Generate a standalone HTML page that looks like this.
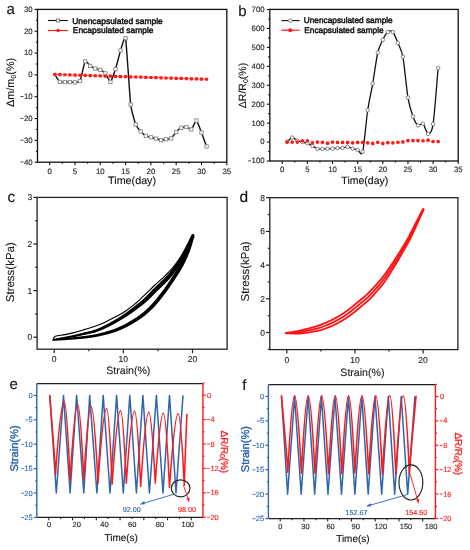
<!DOCTYPE html>
<html><head><meta charset="utf-8"><style>
html,body{margin:0;padding:0;background:#fff;}
body{width:470px;height:550px;overflow:hidden;}
svg{display:block;will-change:transform;text-rendering:geometricPrecision;font-family:"Liberation Sans", sans-serif;}
</style></head><body>
<svg width="470" height="550" viewBox="0 0 470 550">
<rect width="470" height="550" fill="#fff"/>
<g>
<path d="M54.76,74.45 C55.1,74.95 59.15,81.37 59.82,81.88 C60.49,82.38 64.21,82.08 64.88,82.09 C65.55,82.11 69.27,82.08 69.94,82.09 C70.61,82.11 74.33,82.38 75,82.31 C75.67,82.24 79.39,82.4 80.06,81 C80.73,79.61 84.45,62.36 85.12,61.36 C85.79,60.35 89.51,65.46 90.18,65.94 C90.85,66.42 94.57,68.3 95.24,68.56 C95.91,68.82 99.63,69.55 100.3,69.87 C100.97,70.19 104.69,72.56 105.36,73.36 C106.03,74.16 109.75,82.15 110.42,81.88 C111.09,81.6 114.81,71.31 115.48,69.21 C116.15,67.12 119.87,52.51 120.54,50.44 C121.21,48.38 124.93,34.61 125.6,38.22 C126.27,41.83 129.99,98.83 130.66,104.58 C131.33,110.33 135.05,122.65 135.72,124.44 C136.39,126.23 140.11,130.67 140.78,131.43 C141.45,132.18 145.17,135.4 145.84,135.79 C146.51,136.19 150.23,137.13 150.9,137.32 C151.57,137.51 155.29,138.44 155.96,138.63 C156.63,138.82 160.35,140.12 161.02,140.16 C161.69,140.2 165.41,139.4 166.08,139.29 C166.75,139.17 170.47,138.89 171.14,138.41 C171.81,137.93 175.53,132.8 176.2,132.08 C176.87,131.37 180.59,128.05 181.26,127.72 C181.93,127.38 185.65,126.94 186.32,127.06 C186.99,127.18 190.71,129.9 191.38,129.46 C192.05,129.03 195.77,120.31 196.44,120.51 C197.11,120.72 200.83,130.79 201.5,132.52 C202.17,134.25 206.22,145.56 206.56,146.49" fill="none" stroke="#111" stroke-width="1.4" stroke-linejoin="round" stroke-linecap="round"/>
<rect x="58.17" y="80.23" width="3.3" height="3.3" fill="#fff" stroke="#888" stroke-width="0.9"/>
<rect x="63.23" y="80.44" width="3.3" height="3.3" fill="#fff" stroke="#888" stroke-width="0.9"/>
<rect x="68.29" y="80.44" width="3.3" height="3.3" fill="#fff" stroke="#888" stroke-width="0.9"/>
<rect x="73.35" y="80.66" width="3.3" height="3.3" fill="#fff" stroke="#888" stroke-width="0.9"/>
<rect x="78.41" y="79.35" width="3.3" height="3.3" fill="#fff" stroke="#888" stroke-width="0.9"/>
<rect x="83.47" y="59.71" width="3.3" height="3.3" fill="#fff" stroke="#888" stroke-width="0.9"/>
<rect x="88.53" y="64.29" width="3.3" height="3.3" fill="#fff" stroke="#888" stroke-width="0.9"/>
<rect x="93.59" y="66.91" width="3.3" height="3.3" fill="#fff" stroke="#888" stroke-width="0.9"/>
<rect x="98.65" y="68.22" width="3.3" height="3.3" fill="#fff" stroke="#888" stroke-width="0.9"/>
<rect x="103.71" y="71.71" width="3.3" height="3.3" fill="#fff" stroke="#888" stroke-width="0.9"/>
<rect x="108.77" y="80.23" width="3.3" height="3.3" fill="#fff" stroke="#888" stroke-width="0.9"/>
<rect x="113.83" y="67.56" width="3.3" height="3.3" fill="#fff" stroke="#888" stroke-width="0.9"/>
<rect x="118.89" y="48.79" width="3.3" height="3.3" fill="#fff" stroke="#888" stroke-width="0.9"/>
<rect x="123.95" y="36.57" width="3.3" height="3.3" fill="#fff" stroke="#888" stroke-width="0.9"/>
<rect x="129.01" y="102.93" width="3.3" height="3.3" fill="#fff" stroke="#888" stroke-width="0.9"/>
<rect x="134.07" y="122.79" width="3.3" height="3.3" fill="#fff" stroke="#888" stroke-width="0.9"/>
<rect x="139.13" y="129.78" width="3.3" height="3.3" fill="#fff" stroke="#888" stroke-width="0.9"/>
<rect x="144.19" y="134.14" width="3.3" height="3.3" fill="#fff" stroke="#888" stroke-width="0.9"/>
<rect x="149.25" y="135.67" width="3.3" height="3.3" fill="#fff" stroke="#888" stroke-width="0.9"/>
<rect x="154.31" y="136.98" width="3.3" height="3.3" fill="#fff" stroke="#888" stroke-width="0.9"/>
<rect x="159.37" y="138.51" width="3.3" height="3.3" fill="#fff" stroke="#888" stroke-width="0.9"/>
<rect x="164.43" y="137.64" width="3.3" height="3.3" fill="#fff" stroke="#888" stroke-width="0.9"/>
<rect x="169.49" y="136.76" width="3.3" height="3.3" fill="#fff" stroke="#888" stroke-width="0.9"/>
<rect x="174.55" y="130.43" width="3.3" height="3.3" fill="#fff" stroke="#888" stroke-width="0.9"/>
<rect x="179.61" y="126.07" width="3.3" height="3.3" fill="#fff" stroke="#888" stroke-width="0.9"/>
<rect x="184.67" y="125.41" width="3.3" height="3.3" fill="#fff" stroke="#888" stroke-width="0.9"/>
<rect x="189.73" y="127.81" width="3.3" height="3.3" fill="#fff" stroke="#888" stroke-width="0.9"/>
<rect x="194.79" y="118.86" width="3.3" height="3.3" fill="#fff" stroke="#888" stroke-width="0.9"/>
<rect x="199.85" y="130.87" width="3.3" height="3.3" fill="#fff" stroke="#888" stroke-width="0.9"/>
<rect x="204.91" y="144.84" width="3.3" height="3.3" fill="#fff" stroke="#888" stroke-width="0.9"/>
<polyline points="54.76,74.45 59.82,74.61 64.88,74.77 69.94,74.93 75,75.09 80.06,75.25 85.12,75.41 90.18,75.57 95.24,75.73 100.3,75.89 105.36,76.05 110.42,76.21 115.48,76.37 120.54,76.53 125.6,76.69 130.66,76.85 135.72,77.01 140.78,77.17 145.84,77.33 150.9,77.49 155.96,77.66 161.02,77.82 166.08,77.98 171.14,78.14 176.2,78.3 181.26,78.46 186.32,78.62 191.38,78.78 196.44,78.94 201.5,79.1 206.56,79.26" fill="none" stroke="#ff1a1a" stroke-width="0.7" stroke-linejoin="round"/>
<rect x="53.16" y="72.85" width="3.2" height="3.2" rx="0.4" fill="#ff1a1a"/>
<rect x="58.22" y="73.01" width="3.2" height="3.2" rx="0.4" fill="#ff1a1a"/>
<rect x="63.28" y="73.17" width="3.2" height="3.2" rx="0.4" fill="#ff1a1a"/>
<rect x="68.34" y="73.33" width="3.2" height="3.2" rx="0.4" fill="#ff1a1a"/>
<rect x="73.4" y="73.49" width="3.2" height="3.2" rx="0.4" fill="#ff1a1a"/>
<rect x="78.46" y="73.65" width="3.2" height="3.2" rx="0.4" fill="#ff1a1a"/>
<rect x="83.52" y="73.81" width="3.2" height="3.2" rx="0.4" fill="#ff1a1a"/>
<rect x="88.58" y="73.97" width="3.2" height="3.2" rx="0.4" fill="#ff1a1a"/>
<rect x="93.64" y="74.13" width="3.2" height="3.2" rx="0.4" fill="#ff1a1a"/>
<rect x="98.7" y="74.29" width="3.2" height="3.2" rx="0.4" fill="#ff1a1a"/>
<rect x="103.76" y="74.45" width="3.2" height="3.2" rx="0.4" fill="#ff1a1a"/>
<rect x="108.82" y="74.61" width="3.2" height="3.2" rx="0.4" fill="#ff1a1a"/>
<rect x="113.88" y="74.77" width="3.2" height="3.2" rx="0.4" fill="#ff1a1a"/>
<rect x="118.94" y="74.93" width="3.2" height="3.2" rx="0.4" fill="#ff1a1a"/>
<rect x="124" y="75.09" width="3.2" height="3.2" rx="0.4" fill="#ff1a1a"/>
<rect x="129.06" y="75.25" width="3.2" height="3.2" rx="0.4" fill="#ff1a1a"/>
<rect x="134.12" y="75.41" width="3.2" height="3.2" rx="0.4" fill="#ff1a1a"/>
<rect x="139.18" y="75.57" width="3.2" height="3.2" rx="0.4" fill="#ff1a1a"/>
<rect x="144.24" y="75.73" width="3.2" height="3.2" rx="0.4" fill="#ff1a1a"/>
<rect x="149.3" y="75.89" width="3.2" height="3.2" rx="0.4" fill="#ff1a1a"/>
<rect x="154.36" y="76.06" width="3.2" height="3.2" rx="0.4" fill="#ff1a1a"/>
<rect x="159.42" y="76.22" width="3.2" height="3.2" rx="0.4" fill="#ff1a1a"/>
<rect x="164.48" y="76.38" width="3.2" height="3.2" rx="0.4" fill="#ff1a1a"/>
<rect x="169.54" y="76.54" width="3.2" height="3.2" rx="0.4" fill="#ff1a1a"/>
<rect x="174.6" y="76.7" width="3.2" height="3.2" rx="0.4" fill="#ff1a1a"/>
<rect x="179.66" y="76.86" width="3.2" height="3.2" rx="0.4" fill="#ff1a1a"/>
<rect x="184.72" y="77.02" width="3.2" height="3.2" rx="0.4" fill="#ff1a1a"/>
<rect x="189.78" y="77.18" width="3.2" height="3.2" rx="0.4" fill="#ff1a1a"/>
<rect x="194.84" y="77.34" width="3.2" height="3.2" rx="0.4" fill="#ff1a1a"/>
<rect x="199.9" y="77.5" width="3.2" height="3.2" rx="0.4" fill="#ff1a1a"/>
<rect x="204.96" y="77.66" width="3.2" height="3.2" rx="0.4" fill="#ff1a1a"/>
<rect x="37.5" y="9.4" width="189.3" height="152.8" fill="none" stroke="#111" stroke-width="1.3"/>
<line x1="34.5" y1="162.21" x2="37.5" y2="162.21" stroke="#111" stroke-width="1.1"/>
<text x="32.6" y="164.51" font-size="7.8" text-anchor="end" fill="#2a2a2a" stroke="#2a2a2a" stroke-width="0.15">40</text>
<rect x="20.43" y="161.58" width="3" height="0.85" fill="#2a2a2a"/>
<line x1="34.5" y1="140.38" x2="37.5" y2="140.38" stroke="#111" stroke-width="1.1"/>
<text x="32.6" y="142.68" font-size="7.8" text-anchor="end" fill="#2a2a2a" stroke="#2a2a2a" stroke-width="0.15">30</text>
<rect x="20.43" y="139.75" width="3" height="0.85" fill="#2a2a2a"/>
<line x1="34.5" y1="118.55" x2="37.5" y2="118.55" stroke="#111" stroke-width="1.1"/>
<text x="32.6" y="120.85" font-size="7.8" text-anchor="end" fill="#2a2a2a" stroke="#2a2a2a" stroke-width="0.15">20</text>
<rect x="20.43" y="117.92" width="3" height="0.85" fill="#2a2a2a"/>
<line x1="34.5" y1="96.72" x2="37.5" y2="96.72" stroke="#111" stroke-width="1.1"/>
<text x="32.6" y="99.02" font-size="7.8" text-anchor="end" fill="#2a2a2a" stroke="#2a2a2a" stroke-width="0.15">10</text>
<rect x="20.43" y="96.09" width="3" height="0.85" fill="#2a2a2a"/>
<line x1="34.5" y1="74.89" x2="37.5" y2="74.89" stroke="#111" stroke-width="1.1"/>
<text x="32.6" y="77.19" font-size="7.8" text-anchor="end" fill="#2a2a2a" stroke="#2a2a2a" stroke-width="0.15">0</text>
<line x1="34.5" y1="53.06" x2="37.5" y2="53.06" stroke="#111" stroke-width="1.1"/>
<text x="32.6" y="55.36" font-size="7.8" text-anchor="end" fill="#2a2a2a" stroke="#2a2a2a" stroke-width="0.15">10</text>
<line x1="34.5" y1="31.23" x2="37.5" y2="31.23" stroke="#111" stroke-width="1.1"/>
<text x="32.6" y="33.53" font-size="7.8" text-anchor="end" fill="#2a2a2a" stroke="#2a2a2a" stroke-width="0.15">20</text>
<line x1="34.5" y1="9.4" x2="37.5" y2="9.4" stroke="#111" stroke-width="1.1"/>
<text x="32.6" y="11.7" font-size="7.8" text-anchor="end" fill="#2a2a2a" stroke="#2a2a2a" stroke-width="0.15">30</text>
<line x1="35.9" y1="151.29" x2="37.5" y2="151.29" stroke="#111" stroke-width="1.1"/>
<line x1="35.9" y1="129.46" x2="37.5" y2="129.46" stroke="#111" stroke-width="1.1"/>
<line x1="35.9" y1="107.63" x2="37.5" y2="107.63" stroke="#111" stroke-width="1.1"/>
<line x1="35.9" y1="85.8" x2="37.5" y2="85.8" stroke="#111" stroke-width="1.1"/>
<line x1="35.9" y1="63.98" x2="37.5" y2="63.98" stroke="#111" stroke-width="1.1"/>
<line x1="35.9" y1="42.15" x2="37.5" y2="42.15" stroke="#111" stroke-width="1.1"/>
<line x1="35.9" y1="20.32" x2="37.5" y2="20.32" stroke="#111" stroke-width="1.1"/>
<line x1="49.7" y1="162.2" x2="49.7" y2="165.2" stroke="#111" stroke-width="1.1"/>
<text x="49.7" y="173.8" font-size="7.8" text-anchor="middle" fill="#2a2a2a" stroke="#2a2a2a" stroke-width="0.15">0</text>
<line x1="75" y1="162.2" x2="75" y2="165.2" stroke="#111" stroke-width="1.1"/>
<text x="75" y="173.8" font-size="7.8" text-anchor="middle" fill="#2a2a2a" stroke="#2a2a2a" stroke-width="0.15">5</text>
<line x1="100.3" y1="162.2" x2="100.3" y2="165.2" stroke="#111" stroke-width="1.1"/>
<text x="100.3" y="173.8" font-size="7.8" text-anchor="middle" fill="#2a2a2a" stroke="#2a2a2a" stroke-width="0.15">10</text>
<line x1="125.6" y1="162.2" x2="125.6" y2="165.2" stroke="#111" stroke-width="1.1"/>
<text x="125.6" y="173.8" font-size="7.8" text-anchor="middle" fill="#2a2a2a" stroke="#2a2a2a" stroke-width="0.15">15</text>
<line x1="150.9" y1="162.2" x2="150.9" y2="165.2" stroke="#111" stroke-width="1.1"/>
<text x="150.9" y="173.8" font-size="7.8" text-anchor="middle" fill="#2a2a2a" stroke="#2a2a2a" stroke-width="0.15">20</text>
<line x1="176.2" y1="162.2" x2="176.2" y2="165.2" stroke="#111" stroke-width="1.1"/>
<text x="176.2" y="173.8" font-size="7.8" text-anchor="middle" fill="#2a2a2a" stroke="#2a2a2a" stroke-width="0.15">25</text>
<line x1="201.5" y1="162.2" x2="201.5" y2="165.2" stroke="#111" stroke-width="1.1"/>
<text x="201.5" y="173.8" font-size="7.8" text-anchor="middle" fill="#2a2a2a" stroke="#2a2a2a" stroke-width="0.15">30</text>
<line x1="226.8" y1="162.2" x2="226.8" y2="165.2" stroke="#111" stroke-width="1.1"/>
<text x="226.8" y="173.8" font-size="7.8" text-anchor="middle" fill="#2a2a2a" stroke="#2a2a2a" stroke-width="0.15">35</text>
<line x1="62.35" y1="162.2" x2="62.35" y2="163.8" stroke="#111" stroke-width="1.1"/>
<line x1="87.65" y1="162.2" x2="87.65" y2="163.8" stroke="#111" stroke-width="1.1"/>
<line x1="112.95" y1="162.2" x2="112.95" y2="163.8" stroke="#111" stroke-width="1.1"/>
<line x1="138.25" y1="162.2" x2="138.25" y2="163.8" stroke="#111" stroke-width="1.1"/>
<line x1="163.55" y1="162.2" x2="163.55" y2="163.8" stroke="#111" stroke-width="1.1"/>
<line x1="188.85" y1="162.2" x2="188.85" y2="163.8" stroke="#111" stroke-width="1.1"/>
<line x1="214.15" y1="162.2" x2="214.15" y2="163.8" stroke="#111" stroke-width="1.1"/>
<text x="132.1" y="183.8" font-size="10.75" text-anchor="middle" fill="#111" stroke="#111" stroke-width="0.12">Time(day)</text>
<text x="14.3" y="82.4" font-size="10.85" text-anchor="middle" fill="#111" transform="rotate(-90 14.3 82.4)" stroke="#111" stroke-width="0.1">&#916;m/m<tspan font-size="7" dy="1.8">0</tspan><tspan dy="-1.8">(%)</tspan></text>
<line x1="48" y1="20.5" x2="67.8" y2="20.5" stroke="#111" stroke-width="1.1"/>
<rect x="56.5" y="19" width="3.0" height="3.0" fill="#fff" stroke="#777" stroke-width="0.9"/>
<line x1="48" y1="30.5" x2="67.8" y2="30.5" stroke="#ff1a1a" stroke-width="1.2"/>
<circle cx="58" cy="30.5" r="1.7" fill="#ff1a1a"/>
<text x="72.2" y="23.7" font-size="8.45" text-anchor="start" fill="#111" stroke="#111" stroke-width="0.45">Unencapsulated sample</text>
<text x="72.8" y="32.8" font-size="8.45" text-anchor="start" fill="#111" stroke="#111" stroke-width="0.45">Encapsulated sample</text>
<text x="6.5" y="14.1" font-size="15" text-anchor="start" fill="#111" stroke="#111" stroke-width="0.12">a</text>
</g>
<path d="M287.23,141.68 C287.9,141.13 290.92,137.67 292.26,137.52 C293.6,137.36 295.95,139.94 297.29,140.55 C298.63,141.15 300.98,141.68 302.32,142.06 C303.66,142.44 306.01,142.88 307.35,143.39 C308.69,143.89 311.04,145.12 312.38,145.85 C313.72,146.58 316.07,148.47 317.41,148.88 C318.75,149.28 321.1,148.9 322.44,148.88 C323.78,148.85 326.13,148.74 327.47,148.69 C328.81,148.64 331.16,148.57 332.5,148.5 C333.84,148.42 336.19,148.2 337.53,148.12 C338.87,148.04 341.22,148.11 342.56,147.93 C343.9,147.75 346.25,146.69 347.59,146.79 C348.93,146.9 351.28,148.28 352.62,148.69 C353.96,149.09 356.31,149.42 357.65,149.82 C358.99,150.23 361.34,156.99 362.68,151.72 C364.02,146.44 366.37,119.34 367.71,110.25 C369.05,101.16 371.4,91.25 372.74,83.54 C374.08,75.84 376.43,58.32 377.77,52.49 C379.11,46.66 381.46,42.53 382.8,39.8 C384.14,37.07 386.49,33.07 387.83,32.04 C389.17,31 391.52,30.6 392.86,32.04 C394.2,33.48 396.55,39.52 397.89,42.83 C399.23,46.14 401.58,49.55 402.92,56.84 C404.26,64.14 406.61,89.6 407.95,97.56 C409.29,105.51 411.64,112.78 412.98,116.5 C414.32,120.21 416.67,124.44 418.01,125.4 C419.35,126.35 421.7,122.55 423.04,123.69 C424.38,124.83 426.73,133.87 428.07,133.92 C429.41,133.97 431.76,132.83 433.1,124.07 C434.44,115.31 437.46,75.65 438.13,68.21" fill="none" stroke="#111" stroke-width="1.3" stroke-linejoin="round" stroke-linecap="round"/>
<circle cx="287.23" cy="141.68" r="1.75" fill="#fff" stroke="#777" stroke-width="0.9"/>
<circle cx="292.26" cy="137.52" r="1.75" fill="#fff" stroke="#777" stroke-width="0.9"/>
<circle cx="297.29" cy="140.55" r="1.75" fill="#fff" stroke="#777" stroke-width="0.9"/>
<circle cx="302.32" cy="142.06" r="1.75" fill="#fff" stroke="#777" stroke-width="0.9"/>
<circle cx="307.35" cy="143.39" r="1.75" fill="#fff" stroke="#777" stroke-width="0.9"/>
<circle cx="312.38" cy="145.85" r="1.75" fill="#fff" stroke="#777" stroke-width="0.9"/>
<circle cx="317.41" cy="148.88" r="1.75" fill="#fff" stroke="#777" stroke-width="0.9"/>
<circle cx="322.44" cy="148.88" r="1.75" fill="#fff" stroke="#777" stroke-width="0.9"/>
<circle cx="327.47" cy="148.69" r="1.75" fill="#fff" stroke="#777" stroke-width="0.9"/>
<circle cx="332.5" cy="148.5" r="1.75" fill="#fff" stroke="#777" stroke-width="0.9"/>
<circle cx="337.53" cy="148.12" r="1.75" fill="#fff" stroke="#777" stroke-width="0.9"/>
<circle cx="342.56" cy="147.93" r="1.75" fill="#fff" stroke="#777" stroke-width="0.9"/>
<circle cx="347.59" cy="146.79" r="1.75" fill="#fff" stroke="#777" stroke-width="0.9"/>
<circle cx="352.62" cy="148.69" r="1.75" fill="#fff" stroke="#777" stroke-width="0.9"/>
<circle cx="357.65" cy="149.82" r="1.75" fill="#fff" stroke="#777" stroke-width="0.9"/>
<circle cx="362.68" cy="151.72" r="1.75" fill="#fff" stroke="#777" stroke-width="0.9"/>
<circle cx="367.71" cy="110.25" r="1.75" fill="#fff" stroke="#777" stroke-width="0.9"/>
<circle cx="372.74" cy="83.54" r="1.75" fill="#fff" stroke="#777" stroke-width="0.9"/>
<circle cx="377.77" cy="52.49" r="1.75" fill="#fff" stroke="#777" stroke-width="0.9"/>
<circle cx="382.8" cy="39.8" r="1.75" fill="#fff" stroke="#777" stroke-width="0.9"/>
<circle cx="387.83" cy="32.04" r="1.75" fill="#fff" stroke="#777" stroke-width="0.9"/>
<circle cx="392.86" cy="32.04" r="1.75" fill="#fff" stroke="#777" stroke-width="0.9"/>
<circle cx="397.89" cy="42.83" r="1.75" fill="#fff" stroke="#777" stroke-width="0.9"/>
<circle cx="402.92" cy="56.84" r="1.75" fill="#fff" stroke="#777" stroke-width="0.9"/>
<circle cx="407.95" cy="97.56" r="1.75" fill="#fff" stroke="#777" stroke-width="0.9"/>
<circle cx="412.98" cy="116.5" r="1.75" fill="#fff" stroke="#777" stroke-width="0.9"/>
<circle cx="418.01" cy="125.4" r="1.75" fill="#fff" stroke="#777" stroke-width="0.9"/>
<circle cx="423.04" cy="123.69" r="1.75" fill="#fff" stroke="#777" stroke-width="0.9"/>
<circle cx="428.07" cy="133.92" r="1.75" fill="#fff" stroke="#777" stroke-width="0.9"/>
<circle cx="433.1" cy="124.07" r="1.75" fill="#fff" stroke="#777" stroke-width="0.9"/>
<circle cx="438.13" cy="68.21" r="1.75" fill="#fff" stroke="#777" stroke-width="0.9"/>
<circle cx="287.23" cy="142.06" r="1.85" fill="#ff1a1a"/>
<circle cx="292.26" cy="142.06" r="1.85" fill="#ff1a1a"/>
<circle cx="297.29" cy="142.06" r="1.85" fill="#ff1a1a"/>
<circle cx="302.32" cy="140.73" r="1.85" fill="#ff1a1a"/>
<circle cx="307.35" cy="140.73" r="1.85" fill="#ff1a1a"/>
<circle cx="312.38" cy="142.82" r="1.85" fill="#ff1a1a"/>
<circle cx="317.41" cy="142.06" r="1.85" fill="#ff1a1a"/>
<circle cx="322.44" cy="142.25" r="1.85" fill="#ff1a1a"/>
<circle cx="327.47" cy="143.2" r="1.85" fill="#ff1a1a"/>
<circle cx="332.5" cy="142.06" r="1.85" fill="#ff1a1a"/>
<circle cx="337.53" cy="142.44" r="1.85" fill="#ff1a1a"/>
<circle cx="342.56" cy="142.44" r="1.85" fill="#ff1a1a"/>
<circle cx="347.59" cy="142.44" r="1.85" fill="#ff1a1a"/>
<circle cx="352.62" cy="142.82" r="1.85" fill="#ff1a1a"/>
<circle cx="357.65" cy="142.44" r="1.85" fill="#ff1a1a"/>
<circle cx="362.68" cy="142.25" r="1.85" fill="#ff1a1a"/>
<circle cx="367.71" cy="142.82" r="1.85" fill="#ff1a1a"/>
<circle cx="372.74" cy="143.39" r="1.85" fill="#ff1a1a"/>
<circle cx="377.77" cy="142.25" r="1.85" fill="#ff1a1a"/>
<circle cx="382.8" cy="143.39" r="1.85" fill="#ff1a1a"/>
<circle cx="387.83" cy="142.63" r="1.85" fill="#ff1a1a"/>
<circle cx="392.86" cy="142.82" r="1.85" fill="#ff1a1a"/>
<circle cx="397.89" cy="142.25" r="1.85" fill="#ff1a1a"/>
<circle cx="402.92" cy="141.97" r="1.85" fill="#ff1a1a"/>
<circle cx="407.95" cy="140.55" r="1.85" fill="#ff1a1a"/>
<circle cx="412.98" cy="140.55" r="1.85" fill="#ff1a1a"/>
<circle cx="418.01" cy="140.55" r="1.85" fill="#ff1a1a"/>
<circle cx="423.04" cy="140.73" r="1.85" fill="#ff1a1a"/>
<circle cx="428.07" cy="140.17" r="1.85" fill="#ff1a1a"/>
<circle cx="433.1" cy="141.49" r="1.85" fill="#ff1a1a"/>
<circle cx="438.13" cy="141.49" r="1.85" fill="#ff1a1a"/>
<rect x="269.8" y="9.4" width="188.4" height="151.6" fill="none" stroke="#111" stroke-width="1.3"/>
<line x1="266.8" y1="161" x2="269.8" y2="161" stroke="#111" stroke-width="1.1"/>
<text x="264.6" y="163.4" font-size="7.8" text-anchor="end" fill="#2a2a2a" stroke="#2a2a2a" stroke-width="0.15">100</text>
<rect x="248.09" y="160.47" width="3" height="0.85" fill="#2a2a2a"/>
<line x1="266.8" y1="142.06" x2="269.8" y2="142.06" stroke="#111" stroke-width="1.1"/>
<text x="264.6" y="144.46" font-size="7.8" text-anchor="end" fill="#2a2a2a" stroke="#2a2a2a" stroke-width="0.15">0</text>
<line x1="266.8" y1="123.12" x2="269.8" y2="123.12" stroke="#111" stroke-width="1.1"/>
<text x="264.6" y="125.52" font-size="7.8" text-anchor="end" fill="#2a2a2a" stroke="#2a2a2a" stroke-width="0.15">100</text>
<line x1="266.8" y1="104.19" x2="269.8" y2="104.19" stroke="#111" stroke-width="1.1"/>
<text x="264.6" y="106.59" font-size="7.8" text-anchor="end" fill="#2a2a2a" stroke="#2a2a2a" stroke-width="0.15">200</text>
<line x1="266.8" y1="85.25" x2="269.8" y2="85.25" stroke="#111" stroke-width="1.1"/>
<text x="264.6" y="87.65" font-size="7.8" text-anchor="end" fill="#2a2a2a" stroke="#2a2a2a" stroke-width="0.15">300</text>
<line x1="266.8" y1="66.31" x2="269.8" y2="66.31" stroke="#111" stroke-width="1.1"/>
<text x="264.6" y="68.71" font-size="7.8" text-anchor="end" fill="#2a2a2a" stroke="#2a2a2a" stroke-width="0.15">400</text>
<line x1="266.8" y1="47.38" x2="269.8" y2="47.38" stroke="#111" stroke-width="1.1"/>
<text x="264.6" y="49.77" font-size="7.8" text-anchor="end" fill="#2a2a2a" stroke="#2a2a2a" stroke-width="0.15">500</text>
<line x1="266.8" y1="28.44" x2="269.8" y2="28.44" stroke="#111" stroke-width="1.1"/>
<text x="264.6" y="30.84" font-size="7.8" text-anchor="end" fill="#2a2a2a" stroke="#2a2a2a" stroke-width="0.15">600</text>
<line x1="266.8" y1="9.5" x2="269.8" y2="9.5" stroke="#111" stroke-width="1.1"/>
<text x="264.6" y="11.9" font-size="7.8" text-anchor="end" fill="#2a2a2a" stroke="#2a2a2a" stroke-width="0.15">700</text>
<line x1="268.2" y1="151.53" x2="269.8" y2="151.53" stroke="#111" stroke-width="1.1"/>
<line x1="268.2" y1="132.59" x2="269.8" y2="132.59" stroke="#111" stroke-width="1.1"/>
<line x1="268.2" y1="113.65" x2="269.8" y2="113.65" stroke="#111" stroke-width="1.1"/>
<line x1="268.2" y1="94.72" x2="269.8" y2="94.72" stroke="#111" stroke-width="1.1"/>
<line x1="268.2" y1="75.78" x2="269.8" y2="75.78" stroke="#111" stroke-width="1.1"/>
<line x1="268.2" y1="56.84" x2="269.8" y2="56.84" stroke="#111" stroke-width="1.1"/>
<line x1="268.2" y1="37.91" x2="269.8" y2="37.91" stroke="#111" stroke-width="1.1"/>
<line x1="268.2" y1="18.97" x2="269.8" y2="18.97" stroke="#111" stroke-width="1.1"/>
<line x1="282.2" y1="161" x2="282.2" y2="164" stroke="#111" stroke-width="1.1"/>
<text x="282.2" y="171.9" font-size="7.8" text-anchor="middle" fill="#2a2a2a" stroke="#2a2a2a" stroke-width="0.15">0</text>
<line x1="307.35" y1="161" x2="307.35" y2="164" stroke="#111" stroke-width="1.1"/>
<text x="307.35" y="171.9" font-size="7.8" text-anchor="middle" fill="#2a2a2a" stroke="#2a2a2a" stroke-width="0.15">5</text>
<line x1="332.5" y1="161" x2="332.5" y2="164" stroke="#111" stroke-width="1.1"/>
<text x="332.5" y="171.9" font-size="7.8" text-anchor="middle" fill="#2a2a2a" stroke="#2a2a2a" stroke-width="0.15">10</text>
<line x1="357.65" y1="161" x2="357.65" y2="164" stroke="#111" stroke-width="1.1"/>
<text x="357.65" y="171.9" font-size="7.8" text-anchor="middle" fill="#2a2a2a" stroke="#2a2a2a" stroke-width="0.15">15</text>
<line x1="382.8" y1="161" x2="382.8" y2="164" stroke="#111" stroke-width="1.1"/>
<text x="382.8" y="171.9" font-size="7.8" text-anchor="middle" fill="#2a2a2a" stroke="#2a2a2a" stroke-width="0.15">20</text>
<line x1="407.95" y1="161" x2="407.95" y2="164" stroke="#111" stroke-width="1.1"/>
<text x="407.95" y="171.9" font-size="7.8" text-anchor="middle" fill="#2a2a2a" stroke="#2a2a2a" stroke-width="0.15">25</text>
<line x1="433.1" y1="161" x2="433.1" y2="164" stroke="#111" stroke-width="1.1"/>
<text x="433.1" y="171.9" font-size="7.8" text-anchor="middle" fill="#2a2a2a" stroke="#2a2a2a" stroke-width="0.15">30</text>
<line x1="458.25" y1="161" x2="458.25" y2="164" stroke="#111" stroke-width="1.1"/>
<text x="458.25" y="171.9" font-size="7.8" text-anchor="middle" fill="#2a2a2a" stroke="#2a2a2a" stroke-width="0.15">35</text>
<line x1="294.77" y1="161" x2="294.77" y2="162.6" stroke="#111" stroke-width="1.1"/>
<line x1="319.93" y1="161" x2="319.93" y2="162.6" stroke="#111" stroke-width="1.1"/>
<line x1="345.07" y1="161" x2="345.07" y2="162.6" stroke="#111" stroke-width="1.1"/>
<line x1="370.23" y1="161" x2="370.23" y2="162.6" stroke="#111" stroke-width="1.1"/>
<line x1="395.38" y1="161" x2="395.38" y2="162.6" stroke="#111" stroke-width="1.1"/>
<line x1="420.52" y1="161" x2="420.52" y2="162.6" stroke="#111" stroke-width="1.1"/>
<line x1="445.67" y1="161" x2="445.67" y2="162.6" stroke="#111" stroke-width="1.1"/>
<text x="364.8" y="183.6" font-size="10.5" text-anchor="middle" fill="#111" stroke="#111" stroke-width="0.12">Time(day)</text>
<text x="246" y="85.5" font-size="10.5" text-anchor="middle" fill="#111" transform="rotate(-90 246 85.5)" stroke="#111" stroke-width="0.1">&#916;R/R<tspan font-size="7" dy="1.8">0</tspan><tspan dy="-1.8">(%)</tspan></text>
<line x1="281.4" y1="20.6" x2="299.6" y2="20.6" stroke="#111" stroke-width="1.1"/>
<circle cx="290.2" cy="20.6" r="1.85" fill="#fff" stroke="#777" stroke-width="0.9"/>
<line x1="281.4" y1="30.2" x2="299.6" y2="30.2" stroke="#ff1a1a" stroke-width="1.2"/>
<circle cx="290.2" cy="30.2" r="2.0" fill="#ff1a1a"/>
<text x="303.7" y="23.4" font-size="8.3" text-anchor="start" fill="#111" stroke="#111" stroke-width="0.45">Unencapsulated sample</text>
<text x="304.3" y="32.7" font-size="8.3" text-anchor="start" fill="#111" stroke="#111" stroke-width="0.45">Encapsulated sample</text>
<text x="238.3" y="16.1" font-size="15" text-anchor="start" fill="#111" stroke="#111" stroke-width="0.12">b</text>
<path d="M53.4,339.4 C53.72,338.88 53.37,337.1 55.3,336.3 C57.23,335.5 61.72,335.25 65,334.6 C68.28,333.95 71.67,333.27 75,332.4 C78.33,331.53 81.67,330.42 85,329.4 C88.33,328.38 91.67,327.5 95,326.3 C98.33,325.1 101.67,323.73 105,322.2 C108.33,320.67 111.67,318.9 115,317.1 C118.33,315.3 121.67,313.6 125,311.4 C128.33,309.2 131.67,306.7 135,303.9 C138.33,301.1 141.67,297.75 145,294.6 C148.33,291.45 151.67,288.13 155,285 C158.33,281.87 162.17,278.52 165,275.8 C167.83,273.08 169.67,271.43 172,268.7 C174.33,265.97 176.67,262.93 179,259.4 C181.33,255.87 183.68,251.67 186,247.5 C188.32,243.33 191.75,236.58 192.9,234.4" fill="none" stroke="#000" stroke-width="1.15" stroke-linejoin="round" stroke-linecap="round"/>
<path d="M53.32,340.34 L53.9,340.26 L54.62,340.16 L55.48,340.04 L56.45,339.9 L57.5,339.75 L58.61,339.6 L59.75,339.43 L60.9,339.27 L62.04,339.1 L63.15,338.94 L64.2,338.78 L65.16,338.63 L66.06,338.48 L66.94,338.34 L67.8,338.2 L68.65,338.06 L69.48,337.92 L70.3,337.78 L71.12,337.64 L71.93,337.49 L72.75,337.34 L73.57,337.19 L74.39,337.04 L75.23,336.88 L76.07,336.71 L76.91,336.54 L77.75,336.36 L78.59,336.18 L79.43,336 L80.26,335.81 L81.1,335.63 L81.94,335.44 L82.78,335.25 L83.61,335.07 L84.45,334.88 L85.28,334.69 L86.1,334.51 L86.93,334.34 L87.76,334.18 L88.59,334.01 L89.43,333.85 L90.28,333.68 L91.12,333.5 L91.97,333.31 L92.83,333.11 L93.69,332.89 L94.56,332.65 L95.42,332.38 L96.28,332.1 L97.14,331.81 L98,331.49 L98.85,331.17 L99.71,330.83 L100.56,330.49 L101.41,330.13 L102.26,329.76 L103.11,329.39 L103.95,329.01 L104.8,328.63 L105.64,328.24 L106.49,327.85 L107.34,327.44 L108.19,327.03 L109.04,326.61 L109.89,326.18 L110.73,325.75 L111.58,325.3 L112.43,324.86 L113.27,324.4 L114.12,323.94 L114.96,323.48 L115.81,323.02 L116.65,322.55 L117.5,322.07 L118.34,321.59 L119.19,321.11 L120.03,320.62 L120.88,320.12 L121.73,319.62 L122.58,319.11 L123.43,318.59 L124.28,318.06 L125.13,317.53 L125.99,316.98 L126.84,316.43 L127.69,315.86 L128.54,315.29 L129.39,314.71 L130.24,314.12 L131.09,313.53 L131.94,312.92 L132.79,312.32 L133.63,311.71 L134.48,311.09 L135.33,310.47 L136.17,309.85 L137.01,309.22 L137.86,308.6 L138.7,307.98 L139.55,307.35 L140.4,306.71 L141.25,306.06 L142.1,305.4 L142.96,304.73 L143.82,304.04 L144.68,303.34 L145.54,302.61 L146.41,301.86 L147.27,301.08 L148.13,300.27 L148.99,299.44 L149.84,298.6 L150.68,297.75 L151.53,296.89 L152.37,296.03 L153.21,295.18 L154.04,294.33 L154.87,293.48 L155.7,292.65 L156.52,291.84 L157.36,291.03 L158.21,290.21 L159.08,289.39 L159.96,288.56 L160.83,287.73 L161.71,286.9 L162.56,286.07 L163.4,285.25 L164.23,284.44 L165.03,283.64 L165.8,282.86 L166.54,282.1 L167.23,281.38 L167.88,280.69 L168.5,280.03 L169.1,279.39 L169.69,278.76 L170.25,278.13 L170.81,277.5 L171.37,276.86 L171.92,276.21 L172.48,275.53 L173.05,274.83 L173.63,274.09 L174.22,273.33 L174.81,272.56 L175.4,271.78 L175.99,270.98 L176.58,270.17 L177.17,269.34 L177.76,268.49 L178.35,267.62 L178.94,266.74 L179.53,265.84 L180.12,264.91 L180.71,263.96 L181.3,262.99 L181.88,262 L182.45,260.99 L183.03,259.95 L183.6,258.9 L184.17,257.83 L184.74,256.74 L185.31,255.64 L185.88,254.53 L186.45,253.4 L187.01,252.25 L187.58,251.1 L188.17,249.87 L188.79,248.54 L189.43,247.13 L190.08,245.69 L190.72,244.23 L191.36,242.79 L191.97,241.39 L192.55,240.07 L193.08,238.85 L193.55,237.77 L193.95,236.85 L194.27,236.13 L191.53,234.87 L191.19,235.59 L190.76,236.5 L190.25,237.57 L189.68,238.77 L189.07,240.07 L188.41,241.44 L187.74,242.85 L187.05,244.28 L186.36,245.68 L185.68,247.04 L185.03,248.33 L184.42,249.5 L183.83,250.62 L183.23,251.72 L182.63,252.81 L182.04,253.88 L181.44,254.94 L180.84,255.98 L180.24,257.01 L179.65,258.01 L179.05,259 L178.46,259.96 L177.87,260.91 L177.29,261.84 L176.72,262.74 L176.14,263.63 L175.56,264.49 L174.99,265.33 L174.41,266.16 L173.83,266.96 L173.26,267.76 L172.68,268.53 L172.1,269.29 L171.53,270.04 L170.95,270.78 L170.37,271.51 L169.8,272.21 L169.26,272.87 L168.72,273.5 L168.19,274.11 L167.66,274.7 L167.12,275.29 L166.57,275.88 L166.01,276.48 L165.42,277.1 L164.8,277.73 L164.15,278.4 L163.46,279.1 L162.74,279.82 L161.98,280.56 L161.19,281.33 L160.37,282.11 L159.53,282.91 L158.67,283.72 L157.8,284.55 L156.93,285.39 L156.06,286.23 L155.19,287.08 L154.33,287.92 L153.48,288.76 L152.64,289.6 L151.8,290.46 L150.96,291.33 L150.13,292.19 L149.3,293.06 L148.47,293.92 L147.65,294.77 L146.83,295.61 L146.01,296.43 L145.2,297.22 L144.4,298 L143.59,298.74 L142.79,299.47 L141.99,300.18 L141.18,300.88 L140.37,301.56 L139.56,302.23 L138.75,302.89 L137.94,303.54 L137.12,304.19 L136.3,304.83 L135.48,305.47 L134.65,306.11 L133.83,306.75 L133.01,307.39 L132.19,308.03 L131.37,308.66 L130.55,309.28 L129.73,309.9 L128.91,310.51 L128.09,311.12 L127.28,311.71 L126.46,312.3 L125.64,312.88 L124.83,313.46 L124.01,314.02 L123.2,314.57 L122.39,315.11 L121.57,315.65 L120.75,316.18 L119.94,316.7 L119.12,317.22 L118.3,317.72 L117.48,318.22 L116.66,318.72 L115.84,319.21 L115.02,319.7 L114.19,320.18 L113.37,320.66 L112.55,321.14 L111.73,321.61 L110.91,322.08 L110.09,322.54 L109.27,322.99 L108.45,323.44 L107.63,323.88 L106.81,324.31 L105.99,324.73 L105.18,325.15 L104.36,325.56 L103.54,325.96 L102.71,326.35 L101.89,326.75 L101.07,327.13 L100.26,327.51 L99.44,327.88 L98.63,328.23 L97.81,328.58 L97,328.91 L96.19,329.23 L95.38,329.53 L94.58,329.82 L93.78,330.08 L92.98,330.33 L92.17,330.55 L91.36,330.77 L90.54,330.97 L89.72,331.16 L88.9,331.35 L88.07,331.53 L87.24,331.72 L86.4,331.91 L85.56,332.1 L84.72,332.31 L83.89,332.51 L83.06,332.72 L82.22,332.93 L81.39,333.14 L80.56,333.34 L79.74,333.55 L78.91,333.75 L78.08,333.95 L77.25,334.15 L76.43,334.35 L75.6,334.54 L74.77,334.72 L73.95,334.91 L73.14,335.09 L72.33,335.26 L71.53,335.43 L70.73,335.6 L69.92,335.77 L69.11,335.94 L68.29,336.1 L67.45,336.27 L66.6,336.43 L65.73,336.6 L64.84,336.77 L63.89,336.95 L62.85,337.14 L61.76,337.34 L60.62,337.54 L59.48,337.74 L58.34,337.94 L57.24,338.13 L56.2,338.31 L55.24,338.48 L54.38,338.63 L53.66,338.76 L53.08,338.86 Z" fill="#000"/>
<circle cx="53.2" cy="339.6" r="0.75" fill="#000"/>
<circle cx="192.9" cy="235.5" r="1.5" fill="#000"/>
<path d="M53.26,340.85 L53.84,340.82 L54.57,340.77 L55.43,340.72 L56.39,340.67 L57.44,340.61 L58.55,340.54 L59.69,340.47 L60.84,340.4 L61.98,340.33 L63.08,340.27 L64.12,340.2 L65.09,340.14 L65.98,340.08 L66.86,340.02 L67.72,339.96 L68.56,339.9 L69.39,339.83 L70.21,339.77 L71.03,339.71 L71.84,339.65 L72.65,339.59 L73.46,339.52 L74.28,339.46 L75.11,339.39 L75.95,339.32 L76.78,339.26 L77.61,339.19 L78.45,339.12 L79.28,339.05 L80.12,338.98 L80.96,338.91 L81.79,338.83 L82.63,338.76 L83.48,338.67 L84.32,338.58 L85.16,338.49 L86,338.39 L86.84,338.29 L87.67,338.19 L88.51,338.09 L89.35,337.98 L90.2,337.87 L91.04,337.75 L91.88,337.63 L92.72,337.5 L93.57,337.37 L94.41,337.22 L95.26,337.08 L96.11,336.92 L96.95,336.76 L97.79,336.59 L98.64,336.42 L99.48,336.24 L100.33,336.06 L101.17,335.87 L102.01,335.67 L102.86,335.47 L103.7,335.27 L104.54,335.06 L105.38,334.85 L106.22,334.64 L107.06,334.42 L107.9,334.2 L108.74,333.98 L109.59,333.75 L110.43,333.52 L111.28,333.28 L112.13,333.03 L112.99,332.76 L113.84,332.49 L114.7,332.2 L115.55,331.9 L116.41,331.59 L117.26,331.27 L118.11,330.93 L118.96,330.59 L119.81,330.24 L120.67,329.88 L121.52,329.5 L122.36,329.12 L123.21,328.73 L124.06,328.33 L124.91,327.92 L125.76,327.5 L126.61,327.08 L127.45,326.64 L128.3,326.2 L129.15,325.75 L130,325.29 L130.85,324.82 L131.7,324.34 L132.55,323.85 L133.4,323.34 L134.25,322.83 L135.1,322.31 L135.95,321.77 L136.79,321.23 L137.63,320.69 L138.48,320.14 L139.33,319.57 L140.18,319 L141.03,318.41 L141.88,317.81 L142.74,317.19 L143.6,316.55 L144.46,315.88 L145.32,315.2 L146.17,314.49 L147.03,313.76 L147.88,313.02 L148.73,312.26 L149.59,311.48 L150.44,310.68 L151.29,309.87 L152.14,309.03 L152.99,308.17 L153.84,307.29 L154.69,306.4 L155.54,305.48 L156.39,304.53 L157.26,303.54 L158.14,302.5 L159.04,301.41 L159.94,300.29 L160.84,299.16 L161.73,298.02 L162.6,296.88 L163.45,295.77 L164.28,294.68 L165.06,293.64 L165.81,292.65 L166.5,291.72 L167.15,290.86 L167.74,290.05 L168.29,289.29 L168.81,288.57 L169.3,287.87 L169.77,287.2 L170.22,286.53 L170.67,285.87 L171.12,285.2 L171.58,284.51 L172.06,283.8 L172.57,283.05 L173.09,282.26 L173.64,281.46 L174.19,280.63 L174.74,279.79 L175.3,278.95 L175.86,278.09 L176.42,277.23 L176.98,276.37 L177.53,275.52 L178.07,274.66 L178.6,273.82 L179.11,273 L179.61,272.19 L180.09,271.41 L180.57,270.63 L181.04,269.86 L181.5,269.09 L181.95,268.32 L182.4,267.53 L182.84,266.73 L183.28,265.91 L183.72,265.08 L184.17,264.21 L184.61,263.32 L185.05,262.42 L185.5,261.5 L185.94,260.57 L186.39,259.62 L186.83,258.65 L187.27,257.67 L187.71,256.67 L188.15,255.65 L188.58,254.62 L189.01,253.56 L189.42,252.48 L189.84,251.38 L190.26,250.2 L190.69,248.93 L191.13,247.58 L191.57,246.18 L192,244.78 L192.42,243.38 L192.83,242.03 L193.21,240.75 L193.55,239.57 L193.86,238.53 L194.12,237.65 L194.33,236.95 L191.47,236.05 L191.24,236.75 L190.96,237.64 L190.63,238.69 L190.26,239.86 L189.86,241.12 L189.44,242.46 L189,243.83 L188.54,245.21 L188.08,246.57 L187.63,247.88 L187.19,249.1 L186.76,250.22 L186.34,251.26 L185.91,252.29 L185.48,253.3 L185.04,254.3 L184.59,255.27 L184.14,256.23 L183.69,257.17 L183.23,258.1 L182.77,259.01 L182.31,259.92 L181.85,260.8 L181.39,261.68 L180.94,262.52 L180.49,263.33 L180.04,264.12 L179.6,264.89 L179.15,265.65 L178.7,266.4 L178.24,267.14 L177.79,267.89 L177.33,268.65 L176.86,269.42 L176.38,270.2 L175.89,271 L175.38,271.82 L174.87,272.64 L174.34,273.48 L173.8,274.32 L173.25,275.17 L172.7,276.02 L172.14,276.87 L171.59,277.71 L171.04,278.54 L170.5,279.36 L169.96,280.16 L169.43,280.95 L168.93,281.7 L168.45,282.42 L167.99,283.1 L167.55,283.77 L167.11,284.42 L166.67,285.07 L166.22,285.72 L165.74,286.4 L165.24,287.1 L164.71,287.84 L164.13,288.63 L163.5,289.48 L162.81,290.4 L162.07,291.39 L161.29,292.43 L160.47,293.51 L159.63,294.61 L158.77,295.73 L157.9,296.85 L157.02,297.97 L156.15,299.06 L155.28,300.11 L154.43,301.12 L153.61,302.07 L152.79,302.98 L151.98,303.87 L151.16,304.73 L150.34,305.58 L149.52,306.41 L148.71,307.22 L147.89,308.01 L147.08,308.79 L146.27,309.55 L145.45,310.29 L144.64,311.01 L143.83,311.71 L143.02,312.4 L142.21,313.05 L141.4,313.69 L140.59,314.31 L139.78,314.91 L138.97,315.5 L138.16,316.08 L137.34,316.64 L136.52,317.2 L135.7,317.74 L134.88,318.29 L134.05,318.83 L133.24,319.36 L132.42,319.87 L131.6,320.38 L130.79,320.87 L129.97,321.36 L129.15,321.83 L128.34,322.3 L127.52,322.75 L126.7,323.2 L125.88,323.64 L125.06,324.07 L124.24,324.5 L123.42,324.91 L122.6,325.32 L121.79,325.72 L120.97,326.11 L120.15,326.49 L119.33,326.86 L118.52,327.22 L117.7,327.58 L116.89,327.92 L116.07,328.26 L115.26,328.58 L114.45,328.9 L113.64,329.2 L112.83,329.49 L112.01,329.77 L111.2,330.03 L110.38,330.29 L109.57,330.54 L108.75,330.79 L107.92,331.03 L107.1,331.26 L106.27,331.49 L105.45,331.72 L104.62,331.95 L103.79,332.18 L102.97,332.4 L102.14,332.61 L101.32,332.82 L100.5,333.03 L99.67,333.23 L98.85,333.43 L98.03,333.62 L97.21,333.8 L96.38,333.98 L95.56,334.16 L94.74,334.32 L93.92,334.49 L93.1,334.64 L92.28,334.79 L91.45,334.93 L90.63,335.06 L89.8,335.2 L88.98,335.32 L88.15,335.45 L87.33,335.57 L86.5,335.68 L85.67,335.8 L84.84,335.91 L84.02,336.02 L83.19,336.12 L82.37,336.22 L81.54,336.31 L80.71,336.4 L79.88,336.49 L79.05,336.58 L78.22,336.66 L77.39,336.75 L76.56,336.83 L75.72,336.92 L74.89,337.01 L74.06,337.1 L73.24,337.19 L72.43,337.28 L71.63,337.36 L70.82,337.45 L70.01,337.54 L69.2,337.63 L68.37,337.71 L67.53,337.8 L66.68,337.89 L65.81,337.97 L64.91,338.06 L63.96,338.16 L62.92,338.25 L61.82,338.36 L60.69,338.46 L59.54,338.57 L58.4,338.67 L57.3,338.77 L56.26,338.87 L55.3,338.95 L54.44,339.03 L53.71,339.1 L53.14,339.15 Z" fill="#000"/>
<circle cx="53.2" cy="340" r="0.85" fill="#000"/>
<circle cx="192.9" cy="236.5" r="1.5" fill="#000"/>
<rect x="37.1" y="197.4" width="190" height="151.8" fill="none" stroke="#222" stroke-width="1.3"/>
<line x1="33.3" y1="337.2" x2="37.1" y2="337.2" stroke="#222" stroke-width="1.2"/>
<text x="32.2" y="340.2" font-size="8.5" text-anchor="end" fill="#222" stroke="#222" stroke-width="0.12">0</text>
<line x1="33.3" y1="290.6" x2="37.1" y2="290.6" stroke="#222" stroke-width="1.2"/>
<text x="32.2" y="293.6" font-size="8.5" text-anchor="end" fill="#222" stroke="#222" stroke-width="0.12">1</text>
<line x1="33.3" y1="244" x2="37.1" y2="244" stroke="#222" stroke-width="1.2"/>
<text x="32.2" y="247" font-size="8.5" text-anchor="end" fill="#222" stroke="#222" stroke-width="0.12">2</text>
<line x1="33.3" y1="197.4" x2="37.1" y2="197.4" stroke="#222" stroke-width="1.2"/>
<text x="32.2" y="200.4" font-size="8.5" text-anchor="end" fill="#222" stroke="#222" stroke-width="0.12">3</text>
<line x1="35.1" y1="313.9" x2="37.1" y2="313.9" stroke="#222" stroke-width="1.2"/>
<line x1="35.1" y1="267.3" x2="37.1" y2="267.3" stroke="#222" stroke-width="1.2"/>
<line x1="35.1" y1="220.7" x2="37.1" y2="220.7" stroke="#222" stroke-width="1.2"/>
<line x1="54.2" y1="349.2" x2="54.2" y2="353.2" stroke="#222" stroke-width="1.2"/>
<text x="54.2" y="362.4" font-size="8.5" text-anchor="middle" fill="#222" stroke="#222" stroke-width="0.12">0</text>
<line x1="123.35" y1="349.2" x2="123.35" y2="353.2" stroke="#222" stroke-width="1.2"/>
<text x="123.35" y="362.4" font-size="8.5" text-anchor="middle" fill="#222" stroke="#222" stroke-width="0.12">10</text>
<line x1="192.5" y1="349.2" x2="192.5" y2="353.2" stroke="#222" stroke-width="1.2"/>
<text x="192.5" y="362.4" font-size="8.5" text-anchor="middle" fill="#222" stroke="#222" stroke-width="0.12">20</text>
<line x1="88.78" y1="349.2" x2="88.78" y2="351.2" stroke="#222" stroke-width="1.2"/>
<line x1="157.93" y1="349.2" x2="157.93" y2="351.2" stroke="#222" stroke-width="1.2"/>
<text x="128.3" y="374.4" font-size="10.6" text-anchor="middle" fill="#222" stroke="#222" stroke-width="0.12">Strain(%)</text>
<text x="13.7" y="272.2" font-size="11.5" text-anchor="middle" fill="#222" transform="rotate(-90 13.7 272.2)" stroke="#222" stroke-width="0.12">Stress(kPa)</text>
<text x="7.6" y="202.3" font-size="15.5" text-anchor="start" fill="#111" stroke="#111" stroke-width="0.12">c</text>
<polyline points="285.99,332.92 286.51,332.84 287.13,332.75 287.82,332.65 288.59,332.55 289.43,332.43 290.33,332.31 291.28,332.17 292.28,332.03 293.31,331.87 294.38,331.69 295.47,331.5 296.58,331.29 297.7,331.06 298.81,330.81 299.93,330.55 301.03,330.27 302.18,330.02 303.37,329.75 304.6,329.47 305.86,329.17 307.15,328.86 308.46,328.54 309.79,328.2 311.12,327.84 312.47,327.47 313.82,327.07 315.17,326.66 316.51,326.23 317.83,325.78 319.15,325.31 320.44,324.82 321.72,324.33 323,323.84 324.3,323.33 325.59,322.8 326.88,322.26 328.17,321.69 329.45,321.11 330.74,320.51 332.02,319.88 333.31,319.24 334.59,318.57 335.87,317.87 337.16,317.16 338.44,316.41 339.72,315.65 341.01,314.85 342.28,314.03 343.59,313.18 344.96,312.24 346.38,311.22 347.83,310.14 349.31,309.01 350.8,307.85 352.28,306.67 353.75,305.48 355.19,304.31 356.58,303.16 357.92,302.04 359.2,300.98 360.39,299.98 361.5,299.06 362.51,298.23 363.4,297.51 364.15,296.92 364.76,296.45 365.25,296.07 365.63,295.79 365.9,295.57 366.09,295.42 366.2,295.33 366.25,295.3 366.26,295.29 366.3,295.25 366.39,295.15 366.54,294.98 366.75,294.75 367.03,294.45 367.38,294.08 367.83,293.62 368.35,293.09 368.93,292.5 369.55,291.86 370.22,291.17 370.92,290.44 371.65,289.67 372.41,288.88 373.17,288.08 373.93,287.26 374.7,286.44 375.45,285.63 376.18,284.84 376.88,284.06 377.55,283.32 378.17,282.62 378.75,281.97 379.29,281.35 379.81,280.75 380.3,280.16 380.78,279.58 381.24,279.01 381.68,278.45 382.11,277.9 382.53,277.36 382.93,276.82 383.33,276.29 383.72,275.77 384.1,275.25 384.48,274.73 384.86,274.21 385.23,273.7 385.61,273.19 385.97,272.7 386.31,272.23 386.65,271.77 386.97,271.31 387.28,270.87 387.58,270.43 387.88,269.99 388.18,269.56 388.47,269.13 388.76,268.7 389.05,268.26 389.35,267.83 389.64,267.39 389.95,266.94 390.26,266.48 390.57,266.02 390.88,265.56 391.18,265.13 391.46,264.73 391.73,264.34 391.99,263.95 392.26,263.57 392.52,263.19 392.8,262.8 393.08,262.38 393.38,261.94 393.69,261.47 394.03,260.96 394.4,260.4 394.8,259.78 395.23,259.11 395.71,258.37 396.24,257.54 396.82,256.61 397.46,255.6 398.14,254.52 398.85,253.39 399.58,252.21 400.32,251 401.08,249.77 401.83,248.55 402.58,247.33 403.3,246.14 404,244.99 404.67,243.89 405.29,242.86 405.86,241.9 406.38,241.04 406.83,240.25 407.25,239.53 407.63,238.86 407.98,238.23 408.3,237.65 408.59,237.1 408.87,236.59 409.13,236.09 409.38,235.61 409.62,235.15 409.85,234.69 410.09,234.23 410.32,233.76 410.57,233.29 410.82,232.79 411.09,232.28 411.36,231.77 411.61,231.29 411.84,230.84 412.07,230.4 412.28,229.97 412.5,229.55 412.71,229.12 412.93,228.69 413.15,228.25 413.38,227.79 413.63,227.3 413.88,226.78 414.16,226.23 414.46,225.63 414.78,224.98 415.14,224.29 415.53,223.51 415.98,222.62 416.47,221.66 417,220.64 417.55,219.56 418.12,218.45 418.7,217.33 419.29,216.2 419.86,215.09 420.42,214.01 420.95,212.98 421.45,212.01 421.9,211.12 422.31,210.34 422.66,209.66 422.94,209.12" fill="none" stroke="#ff1212" stroke-width="1.8" stroke-linejoin="round" stroke-linecap="round"/>
<polyline points="286,333.07 286.53,333.04 287.14,333.01 287.84,332.98 288.61,332.95 289.45,332.92 290.35,332.88 291.31,332.84 292.32,332.79 293.37,332.73 294.45,332.65 295.56,332.57 296.69,332.47 297.84,332.35 299,332.21 300.15,332.05 301.3,331.86 302.47,331.66 303.68,331.45 304.92,331.23 306.21,330.99 307.52,330.74 308.85,330.47 310.21,330.19 311.58,329.89 312.97,329.58 314.36,329.24 315.75,328.89 317.14,328.51 318.53,328.11 319.9,327.69 321.26,327.25 322.6,326.78 323.93,326.28 325.25,325.78 326.58,325.25 327.9,324.7 329.23,324.14 330.55,323.55 331.88,322.94 333.2,322.31 334.52,321.66 335.85,320.98 337.17,320.28 338.5,319.56 339.82,318.81 341.15,318.03 342.47,317.22 343.8,316.39 345.16,315.49 346.57,314.51 348.03,313.46 349.51,312.34 351.01,311.19 352.51,310.01 354.01,308.81 355.49,307.61 356.93,306.42 358.33,305.25 359.67,304.13 360.95,303.06 362.14,302.06 363.24,301.14 364.23,300.31 365.1,299.6 365.83,299 366.43,298.52 366.91,298.14 367.28,297.84 367.56,297.61 367.78,297.44 367.93,297.3 368.06,297.19 368.16,297.09 368.25,296.98 368.37,296.86 368.51,296.69 368.69,296.48 368.94,296.2 369.27,295.85 369.7,295.39 370.21,294.85 370.78,294.25 371.4,293.59 372.06,292.88 372.75,292.13 373.48,291.35 374.22,290.54 374.97,289.71 375.73,288.88 376.48,288.04 377.22,287.21 377.94,286.4 378.64,285.6 379.3,284.83 379.93,284.1 380.5,283.42 381.03,282.77 381.55,282.13 382.04,281.51 382.51,280.9 382.96,280.3 383.4,279.71 383.82,279.14 384.22,278.57 384.62,278.02 385.01,277.47 385.38,276.93 385.75,276.39 386.12,275.86 386.48,275.34 386.84,274.82 387.2,274.3 387.55,273.79 387.89,273.3 388.21,272.82 388.53,272.35 388.83,271.89 389.13,271.43 389.42,270.98 389.71,270.54 389.99,270.1 390.27,269.65 390.55,269.21 390.83,268.77 391.11,268.32 391.4,267.87 391.7,267.41 392,266.94 392.3,266.48 392.58,266.06 392.85,265.65 393.11,265.25 393.37,264.87 393.62,264.48 393.88,264.09 394.15,263.68 394.43,263.26 394.72,262.81 395.03,262.32 395.37,261.8 395.73,261.22 396.12,260.6 396.54,259.91 397,259.16 397.51,258.31 398.08,257.37 398.7,256.35 399.36,255.25 400.05,254.1 400.76,252.91 401.49,251.69 402.22,250.46 402.96,249.22 403.69,247.99 404.4,246.79 405.08,245.62 405.73,244.51 406.34,243.46 406.9,242.49 407.4,241.62 407.85,240.82 408.26,240.09 408.63,239.4 408.97,238.77 409.29,238.17 409.58,237.62 409.85,237.09 410.11,236.58 410.35,236.1 410.58,235.62 410.81,235.16 411.04,234.69 411.26,234.22 411.5,233.74 411.74,233.25 412,232.73 412.26,232.22 412.5,231.73 412.72,231.27 412.94,230.82 413.15,230.39 413.36,229.96 413.57,229.53 413.78,229.1 413.99,228.65 414.21,228.18 414.45,227.69 414.7,227.17 414.96,226.61 415.25,226.01 415.56,225.36 415.9,224.65 416.28,223.87 416.71,222.98 417.18,222.01 417.68,220.97 418.2,219.88 418.74,218.75 419.29,217.61 419.84,216.47 420.39,215.34 420.91,214.25 421.42,213.2 421.89,212.22 422.32,211.32 422.71,210.53 423.03,209.84 423.3,209.29" fill="none" stroke="#ff1212" stroke-width="1.8" stroke-linejoin="round" stroke-linecap="round"/>
<polyline points="286.01,333.22 286.54,333.24 287.15,333.27 287.85,333.3 288.62,333.35 289.47,333.4 290.38,333.45 291.34,333.5 292.36,333.55 293.42,333.59 294.52,333.62 295.65,333.64 296.81,333.65 297.99,333.63 299.18,333.6 300.38,333.55 301.57,333.46 302.75,333.31 303.98,333.15 305.24,332.98 306.55,332.8 307.88,332.61 309.24,332.41 310.63,332.19 312.04,331.95 313.46,331.69 314.89,331.41 316.33,331.11 317.78,330.79 319.22,330.45 320.66,330.08 322.08,329.68 323.48,329.23 324.85,328.73 326.21,328.22 327.57,327.7 328.93,327.15 330.29,326.58 331.65,325.99 333.02,325.38 334.38,324.74 335.74,324.09 337.1,323.4 338.47,322.69 339.83,321.96 341.2,321.2 342.57,320.41 343.94,319.59 345.32,318.74 346.73,317.8 348.19,316.78 349.68,315.69 351.19,314.55 352.71,313.37 354.23,312.17 355.74,310.95 357.23,309.73 358.68,308.53 360.08,307.35 361.42,306.22 362.7,305.14 363.88,304.14 364.97,303.22 365.95,302.4 366.8,301.69 367.52,301.09 368.1,300.6 368.56,300.21 368.93,299.9 369.22,299.66 369.46,299.46 369.66,299.27 369.86,299.09 370.05,298.89 370.21,298.72 370.34,298.56 370.47,298.41 370.64,298.21 370.86,297.95 371.16,297.61 371.57,297.16 372.07,296.61 372.64,295.99 373.25,295.31 373.9,294.59 374.59,293.82 375.3,293.02 376.03,292.19 376.77,291.35 377.52,290.5 378.26,289.64 378.99,288.79 379.71,287.95 380.4,287.13 381.06,286.35 381.68,285.59 382.25,284.87 382.78,284.19 383.29,283.52 383.77,282.86 384.24,282.22 384.68,281.59 385.11,280.98 385.52,280.38 385.92,279.79 386.31,279.21 386.69,278.64 387.05,278.08 387.41,277.53 387.76,276.99 388.11,276.46 388.45,275.93 388.79,275.41 389.14,274.88 389.47,274.37 389.78,273.87 390.09,273.38 390.39,272.9 390.68,272.44 390.96,271.97 391.23,271.52 391.51,271.06 391.78,270.61 392.05,270.16 392.32,269.71 392.59,269.26 392.86,268.8 393.14,268.34 393.43,267.87 393.71,267.41 393.98,266.98 394.24,266.57 394.49,266.17 394.74,265.78 394.99,265.39 395.24,264.99 395.5,264.57 395.78,264.14 396.06,263.67 396.37,263.18 396.7,262.64 397.05,262.05 397.43,261.41 397.84,260.71 398.29,259.94 398.79,259.09 399.34,258.13 399.94,257.09 400.58,255.99 401.25,254.82 401.94,253.62 402.65,252.39 403.37,251.14 404.09,249.89 404.8,248.64 405.49,247.43 406.16,246.25 406.79,245.13 407.39,244.07 407.93,243.09 408.42,242.2 408.86,241.39 409.27,240.64 409.63,239.95 409.97,239.3 410.28,238.7 410.57,238.13 410.84,237.59 411.09,237.07 411.32,236.58 411.55,236.1 411.77,235.62 411.98,235.15 412.2,234.68 412.43,234.2 412.66,233.7 412.91,233.18 413.15,232.66 413.39,232.17 413.61,231.7 413.82,231.25 414.02,230.81 414.22,230.38 414.42,229.94 414.62,229.5 414.83,229.05 415.04,228.58 415.27,228.08 415.51,227.55 415.76,226.99 416.04,226.39 416.34,225.73 416.66,225.02 417.03,224.23 417.44,223.33 417.89,222.35 418.36,221.29 418.85,220.19 419.36,219.05 419.88,217.89 420.4,216.74 420.91,215.59 421.41,214.49 421.88,213.43 422.33,212.43 422.74,211.52 423.1,210.72 423.41,210.02 423.66,209.46" fill="none" stroke="#ff1212" stroke-width="1.8" stroke-linejoin="round" stroke-linecap="round"/>
<rect x="269.8" y="197.7" width="188.1" height="151.9" fill="none" stroke="#222" stroke-width="1.3"/>
<line x1="266" y1="332.5" x2="269.8" y2="332.5" stroke="#222" stroke-width="1.2"/>
<text x="265" y="335.5" font-size="8.5" text-anchor="end" fill="#222" stroke="#222" stroke-width="0.12">0</text>
<line x1="266" y1="298.8" x2="269.8" y2="298.8" stroke="#222" stroke-width="1.2"/>
<text x="265" y="301.8" font-size="8.5" text-anchor="end" fill="#222" stroke="#222" stroke-width="0.12">2</text>
<line x1="266" y1="265.1" x2="269.8" y2="265.1" stroke="#222" stroke-width="1.2"/>
<text x="265" y="268.1" font-size="8.5" text-anchor="end" fill="#222" stroke="#222" stroke-width="0.12">4</text>
<line x1="266" y1="231.4" x2="269.8" y2="231.4" stroke="#222" stroke-width="1.2"/>
<text x="265" y="234.4" font-size="8.5" text-anchor="end" fill="#222" stroke="#222" stroke-width="0.12">6</text>
<line x1="266" y1="197.7" x2="269.8" y2="197.7" stroke="#222" stroke-width="1.2"/>
<text x="265" y="200.7" font-size="8.5" text-anchor="end" fill="#222" stroke="#222" stroke-width="0.12">8</text>
<line x1="267.8" y1="349.35" x2="269.8" y2="349.35" stroke="#222" stroke-width="1.2"/>
<line x1="267.8" y1="315.65" x2="269.8" y2="315.65" stroke="#222" stroke-width="1.2"/>
<line x1="267.8" y1="281.95" x2="269.8" y2="281.95" stroke="#222" stroke-width="1.2"/>
<line x1="267.8" y1="248.25" x2="269.8" y2="248.25" stroke="#222" stroke-width="1.2"/>
<line x1="267.8" y1="214.55" x2="269.8" y2="214.55" stroke="#222" stroke-width="1.2"/>
<line x1="286.8" y1="349.6" x2="286.8" y2="353.6" stroke="#222" stroke-width="1.2"/>
<text x="286.8" y="362.6" font-size="8.5" text-anchor="middle" fill="#222" stroke="#222" stroke-width="0.12">0</text>
<line x1="354.95" y1="349.6" x2="354.95" y2="353.6" stroke="#222" stroke-width="1.2"/>
<text x="354.95" y="362.6" font-size="8.5" text-anchor="middle" fill="#222" stroke="#222" stroke-width="0.12">10</text>
<line x1="423.1" y1="349.6" x2="423.1" y2="353.6" stroke="#222" stroke-width="1.2"/>
<text x="423.1" y="362.6" font-size="8.5" text-anchor="middle" fill="#222" stroke="#222" stroke-width="0.12">20</text>
<line x1="320.88" y1="349.6" x2="320.88" y2="351.6" stroke="#222" stroke-width="1.2"/>
<line x1="389.03" y1="349.6" x2="389.03" y2="351.6" stroke="#222" stroke-width="1.2"/>
<text x="362.4" y="375.8" font-size="10.6" text-anchor="middle" fill="#222" stroke="#222" stroke-width="0.12">Strain(%)</text>
<text x="249.4" y="271.4" font-size="11.5" text-anchor="middle" fill="#222" transform="rotate(-90 249.4 271.4)" stroke="#222" stroke-width="0.12">Stress(kPa)</text>
<text x="239.6" y="201.6" font-size="15.5" text-anchor="start" fill="#111" stroke="#111" stroke-width="0.12">d</text>
<polyline points="49.8,395.4 56.3,493 63.5,395.4 70.1,493 76.6,395.4 83.8,493 89.7,395.4 96.9,493 103.2,395.4 110,493 116.6,395.4 123.3,493 129.8,395.4 136.4,493 142.9,395.4 149.4,493 156.4,395.4 163,493 169.5,395.4 176,493 183,395.4" fill="none" stroke="#2f66ad" stroke-width="1.5" stroke-linejoin="round"/>
<path d="M49.8,395.5 C51.51,419.17 54.64,454.67 55.5,474.4 C56.8,456.12 60.55,401.3 64.2,401.3 C66.68,401.3 69.21,461 70.1,480.9 C71.24,461.82 74.51,404.6 77.7,404.6 C80.26,404.6 82.88,461 83.8,479.8 C84.91,461.55 88.09,406.8 91.2,406.8 C94.06,406.8 96.98,464.03 98,483.1 C99.31,464.45 103.05,408.5 106.7,408.5 C108.97,408.5 111.29,465.27 112.1,484.2 C113.38,465.82 117.03,410.7 120.6,410.7 C122.99,410.7 125.44,465 126.3,483.1 C127.55,465.12 131.11,411.2 134.6,411.2 C137.16,411.2 139.78,467.6 140.7,486.4 C141.91,467.85 145.4,412.2 148.8,412.2 C151.53,412.2 154.33,465.38 155.3,483.1 C156.52,465.65 160,413.3 163.4,413.3 C165.96,413.3 168.59,468.95 169.5,487.5 C170.81,469.07 174.55,413.8 178.2,413.8 C180.76,413.8 183.39,467.43 184.3,485.3 C184.69,467.57 186.12,435.67 186.9,414.4" fill="none" stroke="#ff1a1a" stroke-width="1.55" stroke-linejoin="round" stroke-linecap="round"/>
<line x1="36.8" y1="383.6" x2="202.9" y2="383.6" stroke="#222" stroke-width="1.3"/>
<line x1="36.8" y1="517.3" x2="202.9" y2="517.3" stroke="#222" stroke-width="1.3"/>
<line x1="48.8" y1="517.3" x2="48.8" y2="520.3" stroke="#222" stroke-width="1.1"/>
<line x1="60.67" y1="517.3" x2="60.67" y2="518.9" stroke="#222" stroke-width="1.1"/>
<line x1="72.55" y1="517.3" x2="72.55" y2="520.3" stroke="#222" stroke-width="1.1"/>
<line x1="84.42" y1="517.3" x2="84.42" y2="518.9" stroke="#222" stroke-width="1.1"/>
<line x1="96.3" y1="517.3" x2="96.3" y2="520.3" stroke="#222" stroke-width="1.1"/>
<line x1="108.17" y1="517.3" x2="108.17" y2="518.9" stroke="#222" stroke-width="1.1"/>
<line x1="120.05" y1="517.3" x2="120.05" y2="520.3" stroke="#222" stroke-width="1.1"/>
<line x1="131.93" y1="517.3" x2="131.93" y2="518.9" stroke="#222" stroke-width="1.1"/>
<line x1="143.8" y1="517.3" x2="143.8" y2="520.3" stroke="#222" stroke-width="1.1"/>
<line x1="155.68" y1="517.3" x2="155.68" y2="518.9" stroke="#222" stroke-width="1.1"/>
<line x1="167.55" y1="517.3" x2="167.55" y2="520.3" stroke="#222" stroke-width="1.1"/>
<line x1="179.43" y1="517.3" x2="179.43" y2="518.9" stroke="#222" stroke-width="1.1"/>
<line x1="191.3" y1="517.3" x2="191.3" y2="520.3" stroke="#222" stroke-width="1.1"/>
<text x="49" y="526.7" font-size="7.5" text-anchor="middle" fill="#222" stroke="#222" stroke-width="0.12">0</text>
<text x="76.75" y="526.7" font-size="7.5" text-anchor="middle" fill="#222" stroke="#222" stroke-width="0.12">20</text>
<text x="104.5" y="526.7" font-size="7.5" text-anchor="middle" fill="#222" stroke="#222" stroke-width="0.12">40</text>
<text x="132.26" y="526.7" font-size="7.5" text-anchor="middle" fill="#222" stroke="#222" stroke-width="0.12">60</text>
<text x="160.01" y="526.7" font-size="7.5" text-anchor="middle" fill="#222" stroke="#222" stroke-width="0.12">80</text>
<text x="187.76" y="526.7" font-size="7.5" text-anchor="middle" fill="#222" stroke="#222" stroke-width="0.12">100</text>
<text x="121.2" y="540.6" font-size="10" text-anchor="middle" fill="#111" stroke="#111" stroke-width="0.12">Time(s)</text>
<line x1="36.8" y1="383.6" x2="36.8" y2="517.3" stroke="#2f66ad" stroke-width="1.4"/>
<line x1="33.8" y1="395.4" x2="36.8" y2="395.4" stroke="#2f66ad" stroke-width="1.2"/>
<text x="32.7" y="398.05" font-size="7.5" text-anchor="end" fill="#2f66ad" stroke="#2f66ad" stroke-width="0.12">0</text>
<line x1="33.8" y1="419.8" x2="36.8" y2="419.8" stroke="#2f66ad" stroke-width="1.2"/>
<text x="32.7" y="422.45" font-size="7.5" text-anchor="end" fill="#2f66ad" stroke="#2f66ad" stroke-width="0.12">5</text>
<rect x="25.33" y="419.52" width="3" height="0.85" fill="#2f66ad"/>
<line x1="33.8" y1="444.2" x2="36.8" y2="444.2" stroke="#2f66ad" stroke-width="1.2"/>
<text x="32.7" y="446.85" font-size="7.5" text-anchor="end" fill="#2f66ad" stroke="#2f66ad" stroke-width="0.12">10</text>
<rect x="21.16" y="443.92" width="3" height="0.85" fill="#2f66ad"/>
<line x1="33.8" y1="468.6" x2="36.8" y2="468.6" stroke="#2f66ad" stroke-width="1.2"/>
<text x="32.7" y="471.25" font-size="7.5" text-anchor="end" fill="#2f66ad" stroke="#2f66ad" stroke-width="0.12">15</text>
<rect x="21.16" y="468.32" width="3" height="0.85" fill="#2f66ad"/>
<line x1="33.8" y1="493" x2="36.8" y2="493" stroke="#2f66ad" stroke-width="1.2"/>
<text x="32.7" y="495.65" font-size="7.5" text-anchor="end" fill="#2f66ad" stroke="#2f66ad" stroke-width="0.12">20</text>
<rect x="21.16" y="492.72" width="3" height="0.85" fill="#2f66ad"/>
<line x1="33.8" y1="517.4" x2="36.8" y2="517.4" stroke="#2f66ad" stroke-width="1.2"/>
<text x="32.7" y="520.05" font-size="7.5" text-anchor="end" fill="#2f66ad" stroke="#2f66ad" stroke-width="0.12">25</text>
<rect x="21.16" y="517.12" width="3" height="0.85" fill="#2f66ad"/>
<line x1="35.2" y1="407.6" x2="36.8" y2="407.6" stroke="#2f66ad" stroke-width="1.2"/>
<line x1="35.2" y1="432" x2="36.8" y2="432" stroke="#2f66ad" stroke-width="1.2"/>
<line x1="35.2" y1="456.4" x2="36.8" y2="456.4" stroke="#2f66ad" stroke-width="1.2"/>
<line x1="35.2" y1="480.8" x2="36.8" y2="480.8" stroke="#2f66ad" stroke-width="1.2"/>
<line x1="35.2" y1="505.2" x2="36.8" y2="505.2" stroke="#2f66ad" stroke-width="1.2"/>
<line x1="202.9" y1="383.6" x2="202.9" y2="517.3" stroke="#ff1a1a" stroke-width="1.4"/>
<line x1="202.9" y1="395.2" x2="205.9" y2="395.2" stroke="#ff1a1a" stroke-width="1.2"/>
<text x="207.1" y="397.7" font-size="7.5" text-anchor="start" fill="#ff1a1a" stroke="#ff1a1a" stroke-width="0.12">0</text>
<line x1="202.9" y1="419.6" x2="205.9" y2="419.6" stroke="#ff1a1a" stroke-width="1.2"/>
<text x="210.4" y="422.1" font-size="7.5" text-anchor="start" fill="#ff1a1a" stroke="#ff1a1a" stroke-width="0.12">4</text>
<rect x="207" y="419.17" width="2.8" height="0.85" fill="#ff1a1a"/>
<line x1="202.9" y1="444" x2="205.9" y2="444" stroke="#ff1a1a" stroke-width="1.2"/>
<text x="210.4" y="446.5" font-size="7.5" text-anchor="start" fill="#ff1a1a" stroke="#ff1a1a" stroke-width="0.12">8</text>
<rect x="207" y="443.57" width="2.8" height="0.85" fill="#ff1a1a"/>
<line x1="202.9" y1="468.4" x2="205.9" y2="468.4" stroke="#ff1a1a" stroke-width="1.2"/>
<text x="210.4" y="470.9" font-size="7.5" text-anchor="start" fill="#ff1a1a" stroke="#ff1a1a" stroke-width="0.12">12</text>
<rect x="207" y="467.97" width="2.8" height="0.85" fill="#ff1a1a"/>
<line x1="202.9" y1="492.8" x2="205.9" y2="492.8" stroke="#ff1a1a" stroke-width="1.2"/>
<text x="210.4" y="495.3" font-size="7.5" text-anchor="start" fill="#ff1a1a" stroke="#ff1a1a" stroke-width="0.12">16</text>
<rect x="207" y="492.37" width="2.8" height="0.85" fill="#ff1a1a"/>
<line x1="202.9" y1="517.2" x2="205.9" y2="517.2" stroke="#ff1a1a" stroke-width="1.2"/>
<text x="210.4" y="519.7" font-size="7.5" text-anchor="start" fill="#ff1a1a" stroke="#ff1a1a" stroke-width="0.12">20</text>
<rect x="207" y="516.78" width="2.8" height="0.85" fill="#ff1a1a"/>
<line x1="202.9" y1="407.4" x2="204.5" y2="407.4" stroke="#ff1a1a" stroke-width="1.2"/>
<line x1="202.9" y1="431.8" x2="204.5" y2="431.8" stroke="#ff1a1a" stroke-width="1.2"/>
<line x1="202.9" y1="456.2" x2="204.5" y2="456.2" stroke="#ff1a1a" stroke-width="1.2"/>
<line x1="202.9" y1="480.6" x2="204.5" y2="480.6" stroke="#ff1a1a" stroke-width="1.2"/>
<line x1="202.9" y1="505" x2="204.5" y2="505" stroke="#ff1a1a" stroke-width="1.2"/>
<line x1="202.9" y1="383" x2="204.5" y2="383" stroke="#ff1a1a" stroke-width="1.2"/>
<text x="17.6" y="448.5" font-size="11.1" text-anchor="middle" fill="#2f66ad" transform="rotate(-90 17.6 448.5)" stroke="#2f66ad" stroke-width="0.4">Strain(%)</text>
<text x="221.3" y="451.8" font-size="10.0" text-anchor="middle" fill="#ff1a1a" transform="rotate(90 221.3 451.8)" stroke="#ff1a1a" stroke-width="0.25" letter-spacing="-0.12">&#916;R/R<tspan font-size="7" dy="1.8">0</tspan><tspan dy="-1.8">(%)</tspan></text>
<text x="9.5" y="388.6" font-size="15" text-anchor="start" fill="#111" stroke="#111" stroke-width="0.12">e</text>
<ellipse cx="180.65" cy="488.3" rx="9.3" ry="8.5" fill="none" stroke="#222" stroke-width="1.15"/>
<line x1="173.8" y1="494.3" x2="142.5" y2="503.5" stroke="#2f66ad" stroke-width="0.9"/>
<polygon points="139.4,504.4 144.2,501.2 145.0,504.2" fill="#2f66ad"/>
<text x="131.7" y="512" font-size="7.2" text-anchor="middle" fill="#2f66ad" stroke="#2f66ad" stroke-width="0.12">92.00</text>
<line x1="183.4" y1="485.1" x2="188.3" y2="499.5" stroke="#ff1a1a" stroke-width="0.9"/>
<polygon points="189.2,502.6 186.5,498.4 189.6,497.6" fill="#ff1a1a"/>
<text x="187.1" y="511.6" font-size="7.2" text-anchor="middle" fill="#ff1a1a" stroke="#ff1a1a" stroke-width="0.12">98.00</text>
<polyline points="281.5,396.4 287.6,494.16 294.6,396.4 301.2,494.16 308.1,396.4 314.7,494.16 321.4,396.4 328,494.16 335,396.4 341.5,494.16 348.4,396.4 354.9,494.16 361.8,396.4 368.2,494.16 375,396.4 381.7,494.16 388.3,396.4 394.7,494.16 401.2,396.4 407.7,494.16 414.9,396.4" fill="none" stroke="#2f66ad" stroke-width="1.5" stroke-linejoin="round"/>
<path d="M281.5,395.8 C283.39,418.72 286.86,453.1 287.8,472.2 C288.82,453.1 291.74,395.8 294.6,395.8 C297.46,395.8 300.38,453.7 301.4,473 C302.42,453.7 305.34,395.8 308.2,395.8 C311.06,395.8 313.98,454.07 315,473.5 C315.99,454.07 318.83,395.8 321.6,395.8 C324.5,395.8 327.47,454.3 328.5,473.8 C329.52,454.3 332.44,395.8 335.3,395.8 C338.03,395.8 340.82,454.3 341.8,473.8 C342.82,454.3 345.74,395.8 348.6,395.8 C351.25,395.8 353.95,453.4 354.9,472.6 C355.96,453.4 359.02,395.8 362,395.8 C364.81,395.8 367.69,454.3 368.7,473.8 C369.76,454.3 372.82,395.8 375.8,395.8 C378.57,395.8 381.41,454.82 382.4,474.5 C383.51,454.82 386.69,395.8 389.8,395.8 C392.36,395.8 394.98,454.82 395.9,474.5 C397.01,454.82 400.19,395.8 403.3,395.8 C405.86,395.8 408.48,454.3 409.4,473.8 C410.39,454.45 414.02,419.62 416,396.4" fill="none" stroke="#ff1a1a" stroke-width="1.6" stroke-linejoin="round" stroke-linecap="round"/>
<line x1="268.4" y1="384.6" x2="435.4" y2="384.6" stroke="#222" stroke-width="1.3"/>
<line x1="268.4" y1="518.6" x2="435.4" y2="518.6" stroke="#222" stroke-width="1.3"/>
<line x1="280.2" y1="518.6" x2="280.2" y2="521.6" stroke="#222" stroke-width="1.1"/>
<line x1="292.07" y1="518.6" x2="292.07" y2="520.2" stroke="#222" stroke-width="1.1"/>
<line x1="303.95" y1="518.6" x2="303.95" y2="521.6" stroke="#222" stroke-width="1.1"/>
<line x1="315.82" y1="518.6" x2="315.82" y2="520.2" stroke="#222" stroke-width="1.1"/>
<line x1="327.7" y1="518.6" x2="327.7" y2="521.6" stroke="#222" stroke-width="1.1"/>
<line x1="339.57" y1="518.6" x2="339.57" y2="520.2" stroke="#222" stroke-width="1.1"/>
<line x1="351.45" y1="518.6" x2="351.45" y2="521.6" stroke="#222" stroke-width="1.1"/>
<line x1="363.32" y1="518.6" x2="363.32" y2="520.2" stroke="#222" stroke-width="1.1"/>
<line x1="375.2" y1="518.6" x2="375.2" y2="521.6" stroke="#222" stroke-width="1.1"/>
<line x1="387.07" y1="518.6" x2="387.07" y2="520.2" stroke="#222" stroke-width="1.1"/>
<line x1="398.95" y1="518.6" x2="398.95" y2="521.6" stroke="#222" stroke-width="1.1"/>
<line x1="410.82" y1="518.6" x2="410.82" y2="520.2" stroke="#222" stroke-width="1.1"/>
<line x1="422.7" y1="518.6" x2="422.7" y2="521.6" stroke="#222" stroke-width="1.1"/>
<text x="280.4" y="528.6" font-size="7.5" text-anchor="middle" fill="#222" stroke="#222" stroke-width="0.12">0</text>
<text x="305.52" y="528.6" font-size="7.5" text-anchor="middle" fill="#222" stroke="#222" stroke-width="0.12">30</text>
<text x="330.63" y="528.6" font-size="7.5" text-anchor="middle" fill="#222" stroke="#222" stroke-width="0.12">60</text>
<text x="355.75" y="528.6" font-size="7.5" text-anchor="middle" fill="#222" stroke="#222" stroke-width="0.12">90</text>
<text x="380.86" y="528.6" font-size="7.5" text-anchor="middle" fill="#222" stroke="#222" stroke-width="0.12">120</text>
<text x="405.98" y="528.6" font-size="7.5" text-anchor="middle" fill="#222" stroke="#222" stroke-width="0.12">150</text>
<text x="431.1" y="528.6" font-size="7.5" text-anchor="middle" fill="#222" stroke="#222" stroke-width="0.12">180</text>
<text x="352.9" y="542.2" font-size="10" text-anchor="middle" fill="#111" stroke="#111" stroke-width="0.12">Time(s)</text>
<line x1="268.4" y1="384.6" x2="268.4" y2="518.6" stroke="#2f66ad" stroke-width="1.4"/>
<line x1="265.4" y1="396.4" x2="268.4" y2="396.4" stroke="#2f66ad" stroke-width="1.2"/>
<text x="264.1" y="399.05" font-size="7.5" text-anchor="end" fill="#2f66ad" stroke="#2f66ad" stroke-width="0.12">0</text>
<line x1="265.4" y1="420.84" x2="268.4" y2="420.84" stroke="#2f66ad" stroke-width="1.2"/>
<text x="264.1" y="423.49" font-size="7.5" text-anchor="end" fill="#2f66ad" stroke="#2f66ad" stroke-width="0.12">5</text>
<rect x="256.73" y="420.56" width="3" height="0.85" fill="#2f66ad"/>
<line x1="265.4" y1="445.28" x2="268.4" y2="445.28" stroke="#2f66ad" stroke-width="1.2"/>
<text x="264.1" y="447.93" font-size="7.5" text-anchor="end" fill="#2f66ad" stroke="#2f66ad" stroke-width="0.12">10</text>
<rect x="252.56" y="445" width="3" height="0.85" fill="#2f66ad"/>
<line x1="265.4" y1="469.72" x2="268.4" y2="469.72" stroke="#2f66ad" stroke-width="1.2"/>
<text x="264.1" y="472.37" font-size="7.5" text-anchor="end" fill="#2f66ad" stroke="#2f66ad" stroke-width="0.12">15</text>
<rect x="252.56" y="469.44" width="3" height="0.85" fill="#2f66ad"/>
<line x1="265.4" y1="494.16" x2="268.4" y2="494.16" stroke="#2f66ad" stroke-width="1.2"/>
<text x="264.1" y="496.81" font-size="7.5" text-anchor="end" fill="#2f66ad" stroke="#2f66ad" stroke-width="0.12">20</text>
<rect x="252.56" y="493.88" width="3" height="0.85" fill="#2f66ad"/>
<line x1="265.4" y1="518.6" x2="268.4" y2="518.6" stroke="#2f66ad" stroke-width="1.2"/>
<text x="264.1" y="521.25" font-size="7.5" text-anchor="end" fill="#2f66ad" stroke="#2f66ad" stroke-width="0.12">25</text>
<rect x="252.56" y="518.33" width="3" height="0.85" fill="#2f66ad"/>
<line x1="266.8" y1="408.62" x2="268.4" y2="408.62" stroke="#2f66ad" stroke-width="1.2"/>
<line x1="266.8" y1="433.06" x2="268.4" y2="433.06" stroke="#2f66ad" stroke-width="1.2"/>
<line x1="266.8" y1="457.5" x2="268.4" y2="457.5" stroke="#2f66ad" stroke-width="1.2"/>
<line x1="266.8" y1="481.94" x2="268.4" y2="481.94" stroke="#2f66ad" stroke-width="1.2"/>
<line x1="266.8" y1="506.38" x2="268.4" y2="506.38" stroke="#2f66ad" stroke-width="1.2"/>
<line x1="435.4" y1="384.6" x2="435.4" y2="518.6" stroke="#ff1a1a" stroke-width="1.4"/>
<line x1="435.4" y1="396.5" x2="438.4" y2="396.5" stroke="#ff1a1a" stroke-width="1.2"/>
<text x="439.9" y="399" font-size="7.5" text-anchor="start" fill="#ff1a1a" stroke="#ff1a1a" stroke-width="0.12">0</text>
<line x1="435.4" y1="420.9" x2="438.4" y2="420.9" stroke="#ff1a1a" stroke-width="1.2"/>
<text x="443.2" y="423.4" font-size="7.5" text-anchor="start" fill="#ff1a1a" stroke="#ff1a1a" stroke-width="0.12">4</text>
<rect x="439.8" y="420.47" width="2.8" height="0.85" fill="#ff1a1a"/>
<line x1="435.4" y1="445.3" x2="438.4" y2="445.3" stroke="#ff1a1a" stroke-width="1.2"/>
<text x="443.2" y="447.8" font-size="7.5" text-anchor="start" fill="#ff1a1a" stroke="#ff1a1a" stroke-width="0.12">8</text>
<rect x="439.8" y="444.88" width="2.8" height="0.85" fill="#ff1a1a"/>
<line x1="435.4" y1="469.7" x2="438.4" y2="469.7" stroke="#ff1a1a" stroke-width="1.2"/>
<text x="443.2" y="472.2" font-size="7.5" text-anchor="start" fill="#ff1a1a" stroke="#ff1a1a" stroke-width="0.12">12</text>
<rect x="439.8" y="469.27" width="2.8" height="0.85" fill="#ff1a1a"/>
<line x1="435.4" y1="494.1" x2="438.4" y2="494.1" stroke="#ff1a1a" stroke-width="1.2"/>
<text x="443.2" y="496.6" font-size="7.5" text-anchor="start" fill="#ff1a1a" stroke="#ff1a1a" stroke-width="0.12">16</text>
<rect x="439.8" y="493.68" width="2.8" height="0.85" fill="#ff1a1a"/>
<line x1="435.4" y1="518.5" x2="438.4" y2="518.5" stroke="#ff1a1a" stroke-width="1.2"/>
<text x="443.2" y="521" font-size="7.5" text-anchor="start" fill="#ff1a1a" stroke="#ff1a1a" stroke-width="0.12">20</text>
<rect x="439.8" y="518.08" width="2.8" height="0.85" fill="#ff1a1a"/>
<line x1="435.4" y1="408.7" x2="437" y2="408.7" stroke="#ff1a1a" stroke-width="1.2"/>
<line x1="435.4" y1="433.1" x2="437" y2="433.1" stroke="#ff1a1a" stroke-width="1.2"/>
<line x1="435.4" y1="457.5" x2="437" y2="457.5" stroke="#ff1a1a" stroke-width="1.2"/>
<line x1="435.4" y1="481.9" x2="437" y2="481.9" stroke="#ff1a1a" stroke-width="1.2"/>
<line x1="435.4" y1="506.3" x2="437" y2="506.3" stroke="#ff1a1a" stroke-width="1.2"/>
<line x1="435.4" y1="384.3" x2="437" y2="384.3" stroke="#ff1a1a" stroke-width="1.2"/>
<text x="249.2" y="449.1" font-size="11.1" text-anchor="middle" fill="#2f66ad" transform="rotate(-90 249.2 449.1)" stroke="#2f66ad" stroke-width="0.4">Strain(%)</text>
<text x="455.3" y="453.7" font-size="10.0" text-anchor="middle" fill="#ff1a1a" transform="rotate(90 455.3 453.7)" stroke="#ff1a1a" stroke-width="0.25" letter-spacing="-0.12">&#916;R/R<tspan font-size="7" dy="1.8">0</tspan><tspan dy="-1.8">(%)</tspan></text>
<text x="242.2" y="389.6" font-size="15" text-anchor="start" fill="#111" stroke="#111" stroke-width="0.12">f</text>
<ellipse cx="410.9" cy="482.4" rx="11.9" ry="17.6" fill="none" stroke="#222" stroke-width="1.15"/>
<line x1="407.8" y1="494.4" x2="369" y2="505.5" stroke="#2f66ad" stroke-width="0.9"/>
<polygon points="365.8,506.4 370.6,503.2 371.4,506.2" fill="#2f66ad"/>
<text x="356.5" y="514.6" font-size="7.2" text-anchor="middle" fill="#2f66ad" stroke="#2f66ad" stroke-width="0.12">152.67</text>
<line x1="410.1" y1="473.8" x2="417.8" y2="500.8" stroke="#ff1a1a" stroke-width="0.9"/>
<polygon points="418.6,504.0 416.1,499.7 419.2,499.0" fill="#ff1a1a"/>
<text x="416.2" y="514.6" font-size="7.2" text-anchor="middle" fill="#ff1a1a" stroke="#ff1a1a" stroke-width="0.12">154.50</text>
</svg>
</body></html>
